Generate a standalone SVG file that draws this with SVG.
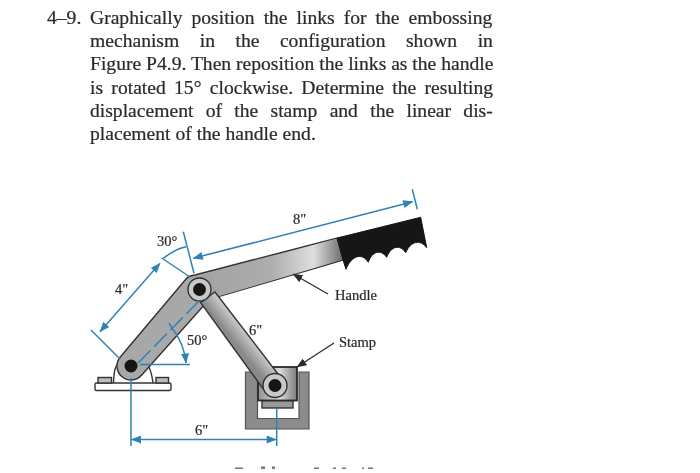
<svg xmlns="http://www.w3.org/2000/svg" width="700" height="473" viewBox="0 0 700 473">
<style>
text{font-family:"Liberation Serif","Times New Roman",serif;fill:#2b2b2b;stroke:#2b2b2b;stroke-width:.22}
.p{font-size:19.6px}
.l{font-size:14.500px}
.b{fill:none;stroke:#2f83b3;stroke-width:1.5}
.o{stroke:#333;stroke-width:1.4}
.m{fill:#777}
</style>
<defs>
<filter id="soft" x="0" y="0" width="100%" height="100%"><feGaussianBlur stdDeviation="0.5"/></filter>
<marker id="a" viewBox="0 0 10 8" refX="9.500" refY="4" markerWidth="11" markerHeight="8" orient="auto-start-reverse" markerUnits="userSpaceOnUse"><path d="M0,0L10,4L0,8z" fill="#2f83b3"/></marker>
<marker id="k" viewBox="0 0 10 8" refX="9.500" refY="4" markerWidth="10" markerHeight="8" orient="auto" markerUnits="userSpaceOnUse"><path d="M0,0L10,4L0,8z" fill="#2a2a2a"/></marker>
<linearGradient id="h" gradientUnits="userSpaceOnUse" x1="200" y1="0" x2="342" y2="0"><stop offset="0" stop-color="#a2a2a2"/><stop offset=".5" stop-color="#adadad"/><stop offset=".8" stop-color="#dedede"/><stop offset="1" stop-color="#707070"/></linearGradient>
<linearGradient id="c" gradientUnits="userSpaceOnUse" x1="258" y1="0" x2="297" y2="0"><stop offset="0" stop-color="#909090"/><stop offset=".55" stop-color="#dcdcdc"/><stop offset="1" stop-color="#7c7c7c"/></linearGradient>
<linearGradient id="r" gradientUnits="userSpaceOnUse" x1="203" y1="303" x2="218" y2="291"><stop offset="0" stop-color="#8a8a8a"/><stop offset="1" stop-color="#dadada"/></linearGradient>
</defs>
<rect width="700" height="473" fill="#fff"/>
<g filter="url(#soft)">
<g id="problem-text">
<text class="p" x="47" y="23.500">4–9.</text>
<text class="p" x="90" y="23.500" word-spacing="4.100">Graphically position the links for the embossing</text>
<text class="p" x="90" y="47" word-spacing="15.600">mechanism in the configuration shown in</text>
<text class="p" x="90" y="70">Figure P4.9. Then reposition the links as the handle</text>
<text class="p" x="90" y="93.500" word-spacing="3.400">is rotated 15° clockwise. Determine the resulting</text>
<text class="p" x="90" y="117" word-spacing="7.400">displacement of the stamp and the linear dis-</text>
<text class="p" x="90" y="140">placement of the handle end.</text>
</g>
<g id="page-cut-marks">
<rect class="m" x="235" y="467.500" width="8" height="1.500"/><rect class="m" x="261" y="466.500" width="4" height="2.500"/><rect class="m" x="272" y="466.500" width="3" height="2.500"/><rect class="m" x="314" y="467.500" width="5" height="1.500"/><rect class="m" x="333" y="467.500" width="3" height="1.500"/><rect class="m" x="342" y="467.500" width="4" height="1.500"/><rect class="m" x="362" y="467.500" width="2" height="1.500"/><rect class="m" x="368" y="467.500" width="5" height="1.500"/>
</g>
<g id="base">
<rect x="95" y="383" width="76" height="7.500" rx="1.500" fill="#fff" class="o"/>
<rect x="98" y="377.500" width="13.500" height="5.500" fill="#bbb" class="o"/>
<rect x="156" y="377.500" width="12.500" height="5.500" fill="#bbb" class="o"/>
<path d="M113.500,383C114,371 115,365 120,361M153,383C152,375 151,371 148.500,366" fill="none" class="o"/>
</g>
<g id="stamp-guide">
<path d="M245.500,372H257.500V418.500H299V372H309V429H245.500z" fill="#8c8c8c" stroke="#555" stroke-width="1.200"/>
<rect x="262" y="400.500" width="31" height="7.500" fill="#999" class="o"/>
</g>
<g id="stamp">
<rect x="258" y="367" width="39" height="33.500" fill="url(#c)" stroke="#2a2a2a" stroke-width="1.800"/>
</g>
<g id="crank-and-handle">
<path d="M120.500,356.700L186,279Q189,275.500 195,275L337,238L343,260L216.700,297L206,303L141.500,375.300A14,14 0 0 1 120.500,356.700z" fill="#a8a8a8" class="o"/>
<path d="M191,278.500L337,238.500L343,259.500L206,300z" fill="url(#h)"/>
<path d="M337,238L420.700,217.300L426.700,247.700C420,239 411,241 405.700,252.700C400,244 391,246 386.700,257.300C381,249 372,251 368.300,262.300C362,252 351,256 346,269.300L343,260z" fill="#151515" stroke="#151515"/>
</g>
<g id="connecting-rod">
<path d="M200.500,302.500L215,292L278,374L264,390z" fill="url(#r)" class="o"/>
</g>
<g id="pin-b"><circle cx="199.500" cy="289.500" r="11.500" fill="#c8c8c8" class="o"/><circle cx="199.500" cy="289.500" r="6.500" fill="#161616"/></g>
<g id="pin-a"><circle cx="131" cy="366" r="6.500" fill="#161616"/></g>
<g id="pin-c"><circle cx="275" cy="385.500" r="12" fill="#c8c8c8" class="o"/><circle cx="275" cy="385.500" r="6.500" fill="#161616"/></g>
<g id="connectors">
<path class="b" d="M100,331.700L160,263.300" marker-start="url(#a)" marker-end="url(#a)"/>
<path class="b" d="M91,330L120,359M161.700,258L190,277"/>
<path class="b" d="M183.300,231.700L194,273.300"/>
<path class="b" d="M163.300,258.300Q175,249 186,246.700"/>
<path class="b" d="M193.300,258.300L412.700,201.700" marker-start="url(#a)" marker-end="url(#a)"/>
<path class="b" d="M412.300,189.300L417.300,209.300"/>
<path class="b" d="M138,363L200,300" stroke-dasharray="18 5"/>
<path class="b" d="M140,364.500H190"/>
<path class="b" d="M169,323L172,328Q184,343 186,363" marker-end="url(#a)"/>
<path class="b" d="M131,378V446M276.700,408V446"/>
<path class="b" d="M131.500,439.500H276.200" marker-start="url(#a)" marker-end="url(#a)"/>
<path d="M328,294L293,274" fill="none" stroke="#2a2a2a" stroke-width="1.300" marker-end="url(#k)"/>
<path d="M334,343L297,367" fill="none" stroke="#2a2a2a" stroke-width="1.300" marker-end="url(#k)"/>
</g>
<g id="labels">
<text class="l" x="157" y="246">30°</text>
<text class="l" x="115" y="294">4"</text>
<text class="l" x="249" y="335">6"</text>
<text class="l" x="187" y="345">50°</text>
<text class="l" x="293" y="224">8"</text>
<text class="l" x="195" y="435">6"</text>
<text class="l" x="335" y="300">Handle</text>
<text class="l" x="339" y="347">Stamp</text>
</g>
</g>
</svg>
